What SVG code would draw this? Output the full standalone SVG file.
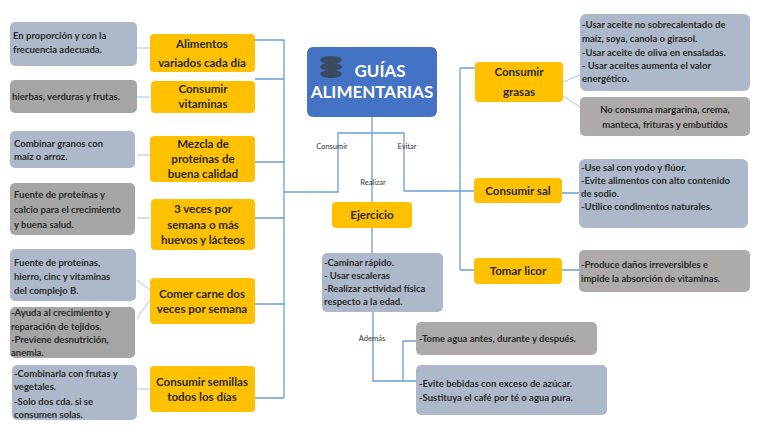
<svg xmlns="http://www.w3.org/2000/svg" width="768" height="433" viewBox="0 0 768 433">
<style>
text{font-family:Lato,"Open Sans","Liberation Sans",sans-serif;font-weight:bold;fill:#2b2b2b}
.s{font-size:9.5px}
.y{font-size:11.5px;text-anchor:middle}
.lab{font-size:7.5px;font-weight:normal;fill:#333;text-anchor:middle}
.yb{fill:#ffc000}
.bg{fill:#adb9ca}
.gg{fill:#a5a5a5}
.wg{fill:#aeaaaa}
.ln{fill:none;stroke:#6a9fd4;stroke-width:1.3}
.lt{fill:none;stroke:#a9c6e4;stroke-width:1}
</style>
<rect width="768" height="433" fill="#fff"/>
<g id="connectors">
<path class="ln" d="M255 40H284V398M255 79H284M255 162H284M255 218H284M255 304H284M255 398H284"/>
<path class="ln" d="M284 192H338V133H404V191H460M372 117V202M460 68V270M460 68H475M460 270H474M460 191H474"/>
<path class="ln" d="M372 228V253M373 312V381H403M403 341V381M403 341H417M403 381H417"/>
<path class="ln" d="M562 193H579M562 270H579"/>
<path class="lt" d="M137 48H150M137 97H150M137 155H150M137 218H150M137 280L150 290M137 318L150 300M137 389H150M563 82L580 75M563 96L580 107"/>
</g>
<text class="lab" x="332" y="149">Consumir</text>
<text class="lab" x="407" y="149">Evitar</text>
<text class="lab" x="373" y="185">Realizar</text>
<text class="lab" x="372" y="341">Además</text>
<g id="center">
<rect x="307" y="47" width="130" height="70" rx="6" fill="#4472c4"/>
<g fill="#3a4a63"><ellipse cx="331" cy="74" rx="11" ry="4"/><ellipse cx="331" cy="67" rx="11" ry="4"/><ellipse cx="331" cy="60" rx="11" ry="4"/></g>
<text x="380" y="77" style="font-size:17px;fill:#fff;text-anchor:middle">GUÍAS</text>
<text x="372" y="98" style="font-size:17px;fill:#fff;text-anchor:middle">ALIMENTARIAS</text>
</g>
<g id="n1"><rect class="bg" x="10" y="22" width="127" height="44" rx="5"/><text class="s" x="13" y="39">En proporción y con la</text><text class="s" x="13" y="53">frecuencia adecuada.</text></g>
<g id="n2"><rect class="gg" x="10" y="80" width="127" height="33" rx="5"/><text class="s" x="12" y="100">hierbas, verduras y frutas.</text></g>
<g id="n3"><rect class="bg" x="10" y="131" width="125" height="37" rx="5"/><text class="s" x="14" y="147">Combinar granos con</text><text class="s" x="14" y="160">maíz o arroz.</text></g>
<g id="n4"><rect class="gg" x="10" y="183" width="125" height="52" rx="5"/><text class="s" x="14" y="198">Fuente de proteínas y</text><text class="s" x="14" y="213">calcio para el crecimiento</text><text class="s" x="14" y="228">y buena salud.</text></g>
<g id="n5"><rect class="bg" x="10" y="249" width="126" height="52" rx="5"/><text class="s" x="14" y="266">Fuente de proteínas,</text><text class="s" x="14" y="280">hierro, cinc y vitaminas</text><text class="s" x="14" y="294">del complejo B.</text></g>
<g id="n6"><rect class="gg" x="10" y="307" width="125" height="51" rx="5"/><text class="s" x="11" y="316">-Ayuda al crecimiento y</text><text class="s" x="11" y="330">reparación de tejidos.</text><text class="s" x="11" y="343">-Previene desnutrición,</text><text class="s" x="11" y="356">anemia.</text></g>
<g id="n7"><rect class="bg" x="12" y="365" width="125" height="55" rx="5"/><text class="s" x="14" y="377">-Combinarla con frutas y</text><text class="s" x="14" y="390">vegetales.</text><text class="s" x="14" y="405">-Solo dos cda. si se</text><text class="s" x="14" y="418">consumen solas.</text></g>
<g id="y1"><rect class="yb" x="150" y="34" width="105" height="38" rx="4"/><text class="y" x="202" y="48">Alimentos</text><text class="y" x="202" y="67">variados cada día</text></g>
<g id="y2"><rect class="yb" x="151" y="81" width="104" height="32" rx="4"/><text class="y" x="203" y="93">Consumir</text><text class="y" x="203" y="108">vitaminas</text></g>
<g id="y3"><rect class="yb" x="150" y="136" width="105" height="46" rx="4"/><text class="y" x="203" y="148">Mezcla de</text><text class="y" x="203" y="163">proteínas de</text><text class="y" x="203" y="178">buena calidad</text></g>
<g id="y4"><rect class="yb" x="151" y="199" width="104" height="51" rx="4"/><text class="y" x="203" y="213">3 veces por</text><text class="y" x="203" y="229">semana o más</text><text class="y" x="203" y="244">huevos y lácteos</text></g>
<g id="y5"><rect class="yb" x="150" y="278" width="105" height="46" rx="4"/><text class="y" x="202" y="298">Comer carne dos</text><text class="y" x="202" y="313">veces por semana</text></g>
<g id="y6"><rect class="yb" x="150" y="366" width="105" height="46" rx="4"/><text class="y" x="202" y="386">Consumir semillas</text><text class="y" x="202" y="401">todos los días</text></g>
<g id="ejercicio"><rect class="yb" x="332" y="202" width="80" height="26" rx="4"/><text class="y" x="372" y="219">Ejercicio</text></g>
<g id="caminar"><rect class="bg" x="322" y="253" width="121" height="59" rx="5"/><text class="s" x="324" y="266">-Caminar rápido.</text><text class="s" x="324" y="279">- Usar escaleras</text><text class="s" x="324" y="292">-Realizar actividad física</text><text class="s" x="324" y="305">respecto a la edad.</text></g>
<g id="agua"><rect class="wg" x="416" y="322" width="181" height="33" rx="5"/><text class="s" x="419" y="342">-Tome agua antes, durante y después.</text></g>
<g id="bebidas"><rect class="bg" x="416" y="365" width="191" height="50" rx="5"/><text class="s" x="419" y="387">-Evite bebidas con exceso de azúcar.</text><text class="s" x="419" y="401">-Sustituya el café por té o agua pura.</text></g>
<g id="grasas"><rect class="yb" x="475" y="62" width="88" height="40" rx="4"/><text class="y" x="519" y="76">Consumir</text><text class="y" x="519" y="96">grasas</text></g>
<g id="sal"><rect class="yb" x="474" y="178" width="88" height="25" rx="4"/><text class="y" x="518" y="195">Consumir sal</text></g>
<g id="licor"><rect class="yb" x="474" y="258" width="88" height="26" rx="4"/><text class="y" x="518" y="275">Tomar licor</text></g>
<g id="aceite"><rect class="bg" x="580" y="14" width="170" height="77" rx="6"/><text class="s" x="582" y="28">-Usar aceite no sobrecalentado de</text><text class="s" x="582" y="42">maíz, soya, canola o girasol.</text><text class="s" x="582" y="56">-Usar aceite de oliva en ensaladas.</text><text class="s" x="582" y="69">- Usar aceites aumenta el valor</text><text class="s" x="582" y="82">energético.</text></g>
<g id="margarina"><rect class="wg" x="580" y="97" width="170" height="39" rx="5"/><text class="s" x="665" y="113" text-anchor="middle">No consuma margarina, crema,</text><text class="s" x="665" y="128" text-anchor="middle">manteca, frituras y embutidos</text></g>
<g id="salbox"><rect class="bg" x="579" y="159" width="169" height="69" rx="6"/><text class="s" x="581" y="171">-Use sal con yodo y flúor.</text><text class="s" x="581" y="184">-Evite alimentos con alto contenido</text><text class="s" x="581" y="197">de sodio.</text><text class="s" x="581" y="210">-Utilice condimentos naturales.</text></g>
<g id="licorbox"><rect class="wg" x="579" y="250" width="171" height="42" rx="5"/><text class="s" x="581" y="268">-Produce daños irreversibles e</text><text class="s" x="581" y="282">impide la absorción de vitaminas.</text></g>
</svg>
